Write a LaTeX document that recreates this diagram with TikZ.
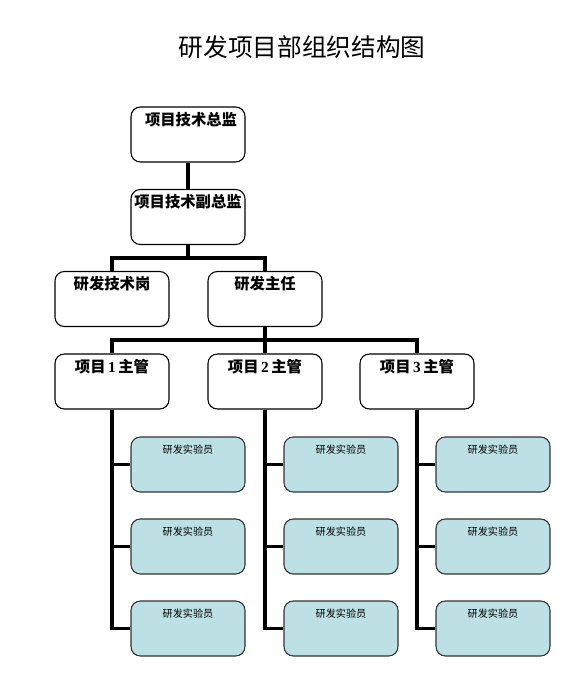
\documentclass[tikz,border=0pt]{standalone}
\usepackage{fontspec}
\setmainfont{Liberation Serif}
\newfontfamily\cjk{Noto Sans CJK SC}
\begin{document}
\begin{tikzpicture}[x=0.75pt,y=-0.75pt,
  box/.style={draw=black, line width=0.8pt, rounded corners=7pt, fill=white,
    minimum width=85.5pt, minimum height=41.25pt, inner sep=0pt},
  mainbox/.style={box},
  leafbox/.style={box, fill=leafblue, draw=black!80},
  conn/.style={line width=2.3pt, line join=miter},
  btxt/.style={font=\cjk\bfseries\fontsize{11.5}{13}\selectfont, inner sep=0pt},
  ltxt/.style={font=\cjk\fontsize{7.6}{9}\selectfont, inner sep=0pt}
]
\definecolor{leafblue}{HTML}{BCE0E4}
\useasboundingbox (0,0) rectangle (581,681);
\node[font=\cjk\fontsize{18.5}{22}\selectfont] (title) at (302,47) {研发项目部组织结构图};

% coordinates for buses
\coordinate (bus1) at (188,258);
\coordinate (bus2) at (265,340);

\node[mainbox] (d1) at (188,134.5) {};
\node[mainbox] (d2) at (188,217) {};
\node[mainbox] (t) at (112,299) {};
\node[mainbox] (z) at (265,299) {};
\node[mainbox] (m1) at (112,381.5) {};
\node[mainbox] (m2) at (265,381.5) {};
\node[mainbox] (m3) at (417,381.5) {};

\foreach \c/\x in {1/188,2/341,3/493}{
  \foreach \r/\y in {1/464.5,2/546.5,3/628.5}{
    \node[leafbox] (l\c\r) at (\x,\y) {};
    \node[ltxt, anchor=center] (lt\c\r) at (\x,\y-15) {研发实验员};
  }
}

\draw[conn] (d1.south) -- (d2.north);
\draw[conn] (d2.south) -- (bus1);
\draw[conn] (t.north) |- (bus1) -| (z.north);
\draw[conn] (z.south) -- (bus2);
\draw[conn] (m1.north) |- (bus2) -| (m3.north);
\draw[conn] (bus2) -- (m2.north);

\foreach \c/\m in {1/m1,2/m2,3/m3}{
  \draw[conn] (\m.south) |- (l\c3.west);
  \draw[conn] (\m.south |- l\c1.west) -- (l\c1.west);
  \draw[conn] (\m.south |- l\c2.west) -- (l\c2.west);
}

\node[btxt] (td1) at (191,120) {项目技术总监};
\node[btxt] (td2) at (188,202) {项目技术副总监};
\node[btxt] (tt) at (112,284) {研发技术岗};
\node[btxt] (tz) at (265,284) {研发主任};
\node[btxt] (tm1) at (112,367) {项目\,{\rmfamily\bfseries 1}\,主管};
\node[btxt] (tm2) at (265,367) {项目\,{\rmfamily\bfseries 2}\,主管};
\node[btxt] (tm3) at (417,367) {项目\,{\rmfamily\bfseries 3}\,主管};
\end{tikzpicture}
\end{document}
